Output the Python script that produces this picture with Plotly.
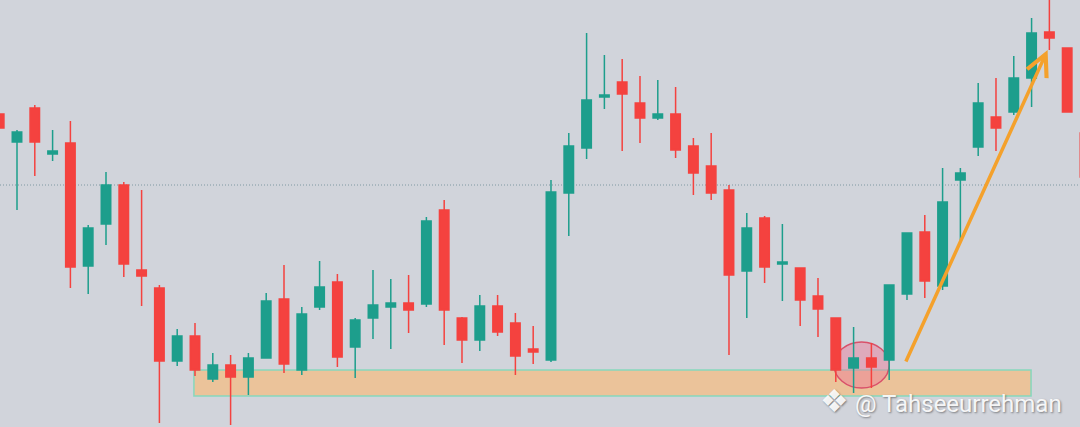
import plotly.graph_objects as go

# candle index (0 = left edge of the view)
idx = list(range(62))

opens = [313, 285, 319, 273, 284, 161, 203, 242, 157, 139, 66, 91, 48, 62, 50, 69,
         128, 57, 120, 145, 80, 109, 120, 124, 123, 217, 109, 87, 121, 104, 78, 67,
         234, 279, 330, 345, 324, 309, 313, 281, 261, 237, 156, 209, 163, 159, 131, 109,
         59, 69, 67, 133, 195, 141, 247, 280, 310, 315, 349, 395, 379, 294]
highs = [317, 297, 322, 297, 306, 202, 255, 245, 237, 142, 98, 104, 74, 72, 74, 134,
         162, 120, 166, 153, 109, 157, 148, 152, 210, 227, 110, 132, 132, 114, 101, 247,
         294, 394, 372, 368, 351, 347, 340, 289, 294, 242, 214, 211, 203, 159, 149, 109,
         100, 84, 142, 194, 212, 259, 259, 344, 349, 371, 409, 437, 379, 297]
lows = [295, 217, 251, 266, 139, 133, 182, 150, 121, 4, 61, 51, 45, 2, 32, 69,
        54, 52, 117, 60, 49, 88, 78, 94, 120, 82, 64, 76, 91, 52, 63, 65,
        191, 268, 318, 276, 284, 307, 269, 232, 227, 72, 109, 144, 126, 101, 90, 45,
        34, 39, 47, 127, 129, 137, 187, 271, 276, 312, 320, 377, 315, 247]
closes = [299, 295, 285, 276, 160, 199, 242, 163, 151, 66, 91, 57, 62, 50, 69, 126,
          63, 113, 140, 70, 107, 122, 124, 117, 206, 117, 87, 121, 95, 71, 75, 235,
          281, 327, 332, 333, 309, 313, 277, 254, 234, 152, 199, 160, 165, 127, 118, 57,
          69, 60, 142, 194, 146, 225, 254, 324, 299, 349, 394, 389, 315, 250]

# annotation levels
mid_level = 242
zone_low, zone_high = 31, 57
zone_start, zone_end = 10.94, 57.97
circle_x = [46.9, 50.0]
circle_y = [39, 85]
arrow_from = (50.9, 64)
arrow_to = (58.9, 377)

BG = "#d1d4db"
UP = "#1d9e8c"
DOWN = "#f4423f"

fig = go.Figure()
fig.add_trace(go.Candlestick(
    x=idx, open=opens, high=highs, low=lows, close=closes,
    increasing=dict(line=dict(color=UP, width=1.5), fillcolor=UP),
    decreasing=dict(line=dict(color=DOWN, width=1.5), fillcolor=DOWN),
    showlegend=False, hoverinfo="skip",
))

# dotted mid line
fig.add_shape(type="line", xref="paper", x0=0, x1=1, y0=mid_level, y1=mid_level,
              line=dict(color="#7f98a2", width=1, dash="1px,2px"), layer="below")

# support zone
fig.add_shape(type="rect", x0=zone_start, x1=zone_end, y0=zone_low, y1=zone_high,
              fillcolor="#ebc39a", line=dict(color="#86d8bd", width=1.5), layer="below")

# circle around the two small candles (under the candles, over the zone)
fig.add_shape(type="circle", x0=circle_x[0], x1=circle_x[1], y0=circle_y[0], y1=circle_y[1],
              fillcolor="rgba(238,120,150,0.45)", line=dict(color="#d9506a", width=1.5),
              layer="below")

# orange arrow
fig.add_annotation(x=arrow_to[0], y=arrow_to[1], ax=arrow_from[0], ay=arrow_from[1],
                   xref="x", yref="y", axref="x", ayref="y", text="",
                   showarrow=True, arrowhead=5, arrowsize=1.2, arrowwidth=3.5,
                   arrowcolor="#f4a12c")

# watermark
fig.add_annotation(xref="paper", yref="paper", x=0.757, y=0.06, xanchor="left", yanchor="middle",
                   text="<span style='font-size:32px'>❖</span> @ Tahseeurrehman", showarrow=False,
                   font=dict(family="Roboto", size=24, color="rgba(255,255,255,0.92)",
                             shadow="1px 1px 2px rgba(0,0,0,0.45)"))

fig.update_layout(
    width=1080, height=427,
    margin=dict(l=0, r=0, t=0, b=0),
    paper_bgcolor=BG, plot_bgcolor=BG,
    boxgap=0.24,
    xaxis=dict(range=[0.045, 60.72], visible=False, rangeslider=dict(visible=False),
               showgrid=False, zeroline=False),
    yaxis=dict(range=[0, 427], visible=False, showgrid=False, zeroline=False),
)

fig.write_html("out.html", config={"displayModeBar": False},
               post_script="document.body.style.margin='0';")
